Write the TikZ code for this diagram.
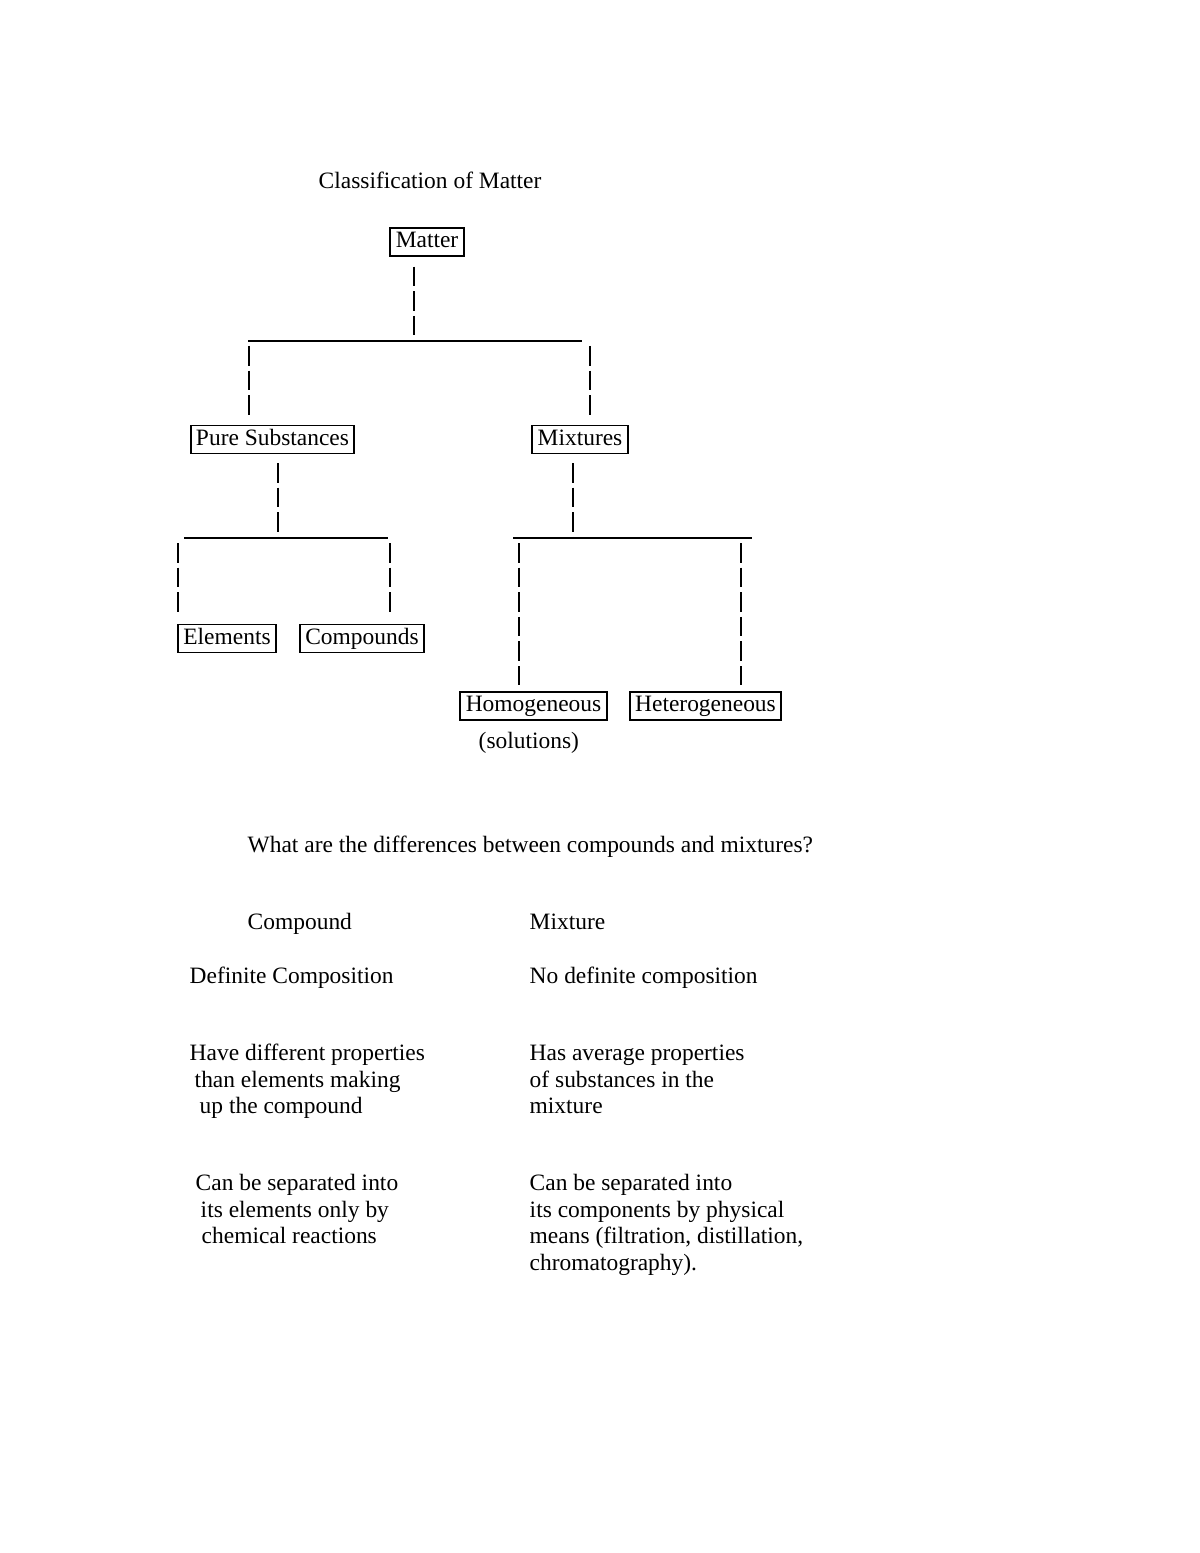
\documentclass[tikz,border=0pt]{standalone}
\usepackage{fontspec}
\setmainfont{Liberation Serif}

\begin{document}
\begin{tikzpicture}[x=0.017992cm, y=-0.017992cm,
					line width=0.75pt,
					font=\fontsize{12pt}{13.6pt}\selectfont,
					box/.style={draw, inner xsep=1pt, inner ysep=0pt,
						text height=8.6pt, text depth=2.6pt,
						minimum height=0.5cm, minimum width=#1},
					txt/.style={anchor=base west, inner sep=0pt},
					bars/.style={dash pattern=on 10pt off 2.6pt}]

  \useasboundingbox (0,0) rectangle (1200,1553);

  \node[txt] (title) at (318,189) {Classification of Matter};

  % tree
  \node[box=1.33cm] (matter) at (427,242) {Matter};
  \node[box=2.93cm] (pure) at (272.5,439.5) {Pure Substances};
  \node[box=1.73cm] (mix) at (580,439.5) {Mixtures};
  \node[box=1.76cm] (elem) at (227,638.5) {Elements};
  \node[box=2.23cm] (comp) at (362,638.5) {Compounds};
  \node[box=2.64cm] (homo) at (533.5,706) {Homogeneous};
  \node[box=2.72cm] (hetero) at (705.5,706) {Heterogeneous};
  \node[txt] (sol) at (478,748) {(solutions)};

  \coordinate (m0) at (414,341);
  \coordinate (mL) at (248,341);
  \coordinate (mR) at (582,341);
  \coordinate (p0) at (278,538);
  \coordinate (pL) at (184,538);
  \coordinate (pR) at (388,538);
  \coordinate (x0) at (573,538);
  \coordinate (xL) at (513,538);
  \coordinate (xR) at (752,538);

  \draw[bars] (matter.south -| m0) ++(0,10) -- (m0);
  \draw (mL) -- (mR);
  \draw[bars, shorten >=4pt] (249,346) -- (pure.north -| 249,0);
  \draw[bars, shorten >=4pt] (590,346) -- (mix.north -| 590,0);

  \draw[bars] (pure.south -| p0) ++(0,9) -- (p0);
  \draw (pL) -- (pR);
  \draw[bars, shorten >=5pt] (178,543) -- (elem.north -| 178,0);
  \draw[bars, shorten >=5pt] (390,543) -- (comp.north -| 390,0);

  \draw[bars] (mix.south -| x0) ++(0,9) -- (x0);
  \draw (xL) -- (xR);
  \draw[bars, shorten >=3.5pt] (519,543) -- (homo.north -| 519,0);
  \draw[bars, shorten >=3.5pt] (741,543) -- (hetero.north -| 741,0);

  % comparison
  \node[txt] (quest) at (247,852) {What are the differences between compounds and mixtures?};
  \node[txt] (hcomp) at (247,929) {Compound};
  \node[txt] (hmix) at (529,929) {Mixture};

  \node[txt] (c1) at (189,983) {Definite Composition};
  \node[txt] (m1) at (529,983) {No definite composition};

  \node[txt] (c2a) at (189,1060) {Have different properties};
  \node[txt] (c2b) at (194,1087) {than elements making};
  \node[txt] (c2c) at (199,1113) {up the compound};
  \node[txt] (m2a) at (529,1060) {Has average properties};
  \node[txt] (m2b) at (529,1087) {of substances in the};
  \node[txt] (m2c) at (529,1113) {mixture};

  \node[txt] (c3a) at (195,1190) {Can be separated into};
  \node[txt] (c3b) at (200,1217) {its elements only by};
  \node[txt] (c3c) at (201,1243) {chemical reactions};
  \node[txt] (m3a) at (529,1190) {Can be separated into};
  \node[txt] (m3b) at (529,1217) {its components by physical};
  \node[txt] (m3c) at (529,1243) {means (filtration, distillation,};
  \node[txt] (m3d) at (529,1270) {chromatography).};
\end{tikzpicture}
\end{document}
